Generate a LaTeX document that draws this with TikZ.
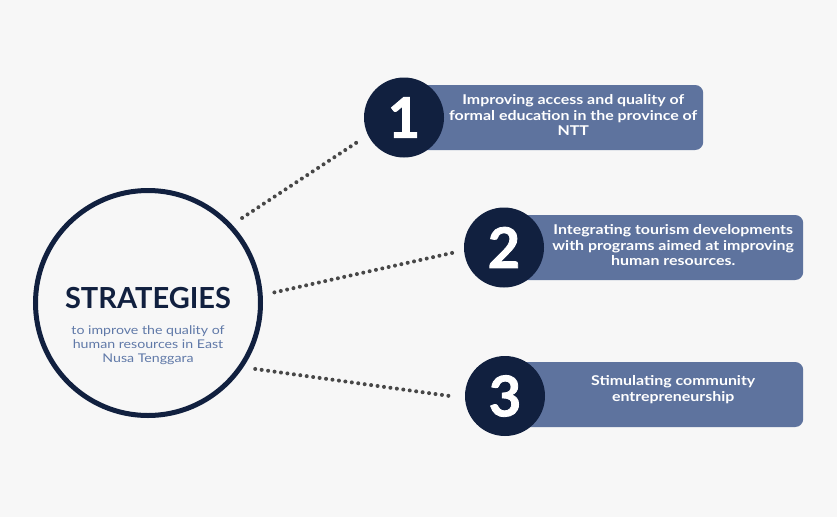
\documentclass[tikz,border=0pt]{standalone}
\usepackage{fontspec}
\setmainfont{Lato}
\newfontfamily\numfont{Lato}[BoldFeatures={FakeBold=1.5}]
\newfontfamily\widefont{Lato}[FakeStretch=1.18]
\usetikzlibrary{positioning}
\definecolor{navy}{HTML}{11203F}
\definecolor{slate}{HTML}{5E739E}
\definecolor{subblue}{HTML}{6079A8}
\definecolor{dotgray}{HTML}{474747}
\definecolor{paper}{HTML}{F7F7F7}

\begin{document}
\begin{tikzpicture}[x=1pt, y=-1pt]
\tikzstyle{bigring} = [circle, draw=navy, line width=5pt, minimum size=225pt, inner sep=0pt]
\tikzstyle{numdisc} = [circle, fill=navy, minimum size=80pt, inner sep=0pt, text=white,
                      font=\numfont\bfseries\fontsize{56}{56}\selectfont]
\tikzstyle{itembox} = [rectangle, rounded corners=8pt, fill=slate, minimum width=299pt,
                      minimum height=65pt, anchor=west, inner sep=0pt]
\tikzstyle{itemtext} = [text=white, align=center, inner sep=0pt,
                       font=\widefont\bfseries\fontsize{13.5}{15.5}\selectfont]
\tikzstyle{dotline} = [dotgray, line width=4pt, line cap=round, dash pattern=on 0pt off 6.5pt,
                      shorten <=12pt, shorten >=11pt]
\useasboundingbox[fill=paper] (0,0) rectangle (837,517);
% centre circle
\node (main) [bigring] at (148,303) {};
\node (title) [text=navy, inner sep=0pt, font=\bfseries\fontsize{29}{30}\selectfont] at (148,298) {STRATEGIES};
\node (subtitle) [text=subblue, align=center, inner sep=0pt, font=\widefont\fontsize{12}{14}\selectfont]
  at (148,345) {to improve the quality of\\human resources in East\\Nusa Tenggara};
% strategy boxes
\node (box1) [itembox] at (404,117.5) {};
\node (box2) [itembox] at (504,247.5) {};
\node (box3) [itembox] at (504,394.5) {};
\node (t1) [itemtext] at ([xshift=19.5pt, yshift=2.5pt]box1.center)
  {Improving access and quality of\\formal education in the province of\\NTT};
\node (t2) [itemtext] at ([xshift=19.5pt, yshift=2pt]box2.center)
  {Integrating tourism developments\\with programs aimed at improving\\human resources.};
\node (t3) [itemtext] at ([xshift=19.5pt, yshift=5pt]box3.center)
  {Stimulating community\\entrepreneurship};
\node (n1) [numdisc] at (box1.west) {1};
\node (n2) [numdisc] at (box2.west) {2};
\node (n3) [numdisc] at ([xshift=1pt, yshift=-1.5pt]box3.west) {3};
% dotted links
\draw [dotline] (main.43) -- (n1.206);
\draw [dotline] (main.4) -- (n2.184);
\draw [dotline] (main.-34) -- (n3.183);
\end{tikzpicture}
\end{document}
